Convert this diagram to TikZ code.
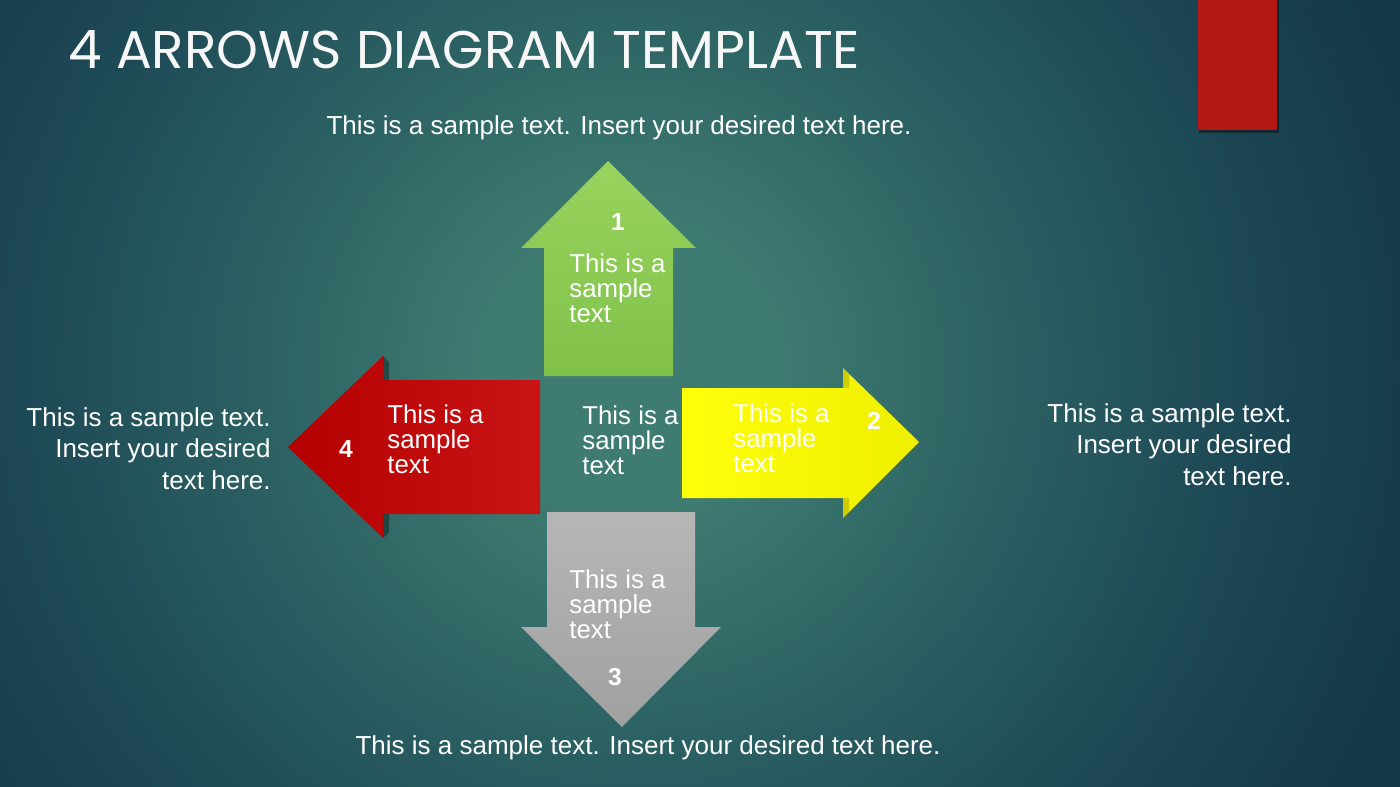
\documentclass[tikz,border=0pt]{standalone}
\usepackage{graphicx}
\usepackage{fontspec}
\setmainfont{Liberation Sans}
\newfontfamily\titleFont{Poppins}
\usepackage{tikz}
\usetikzlibrary{positioning}
\definecolor{bgEdge}{HTML}{143848}
\definecolor{bgMid}{HTML}{1D4855}
\definecolor{bgInner}{HTML}{2C6263}
\definecolor{bgCenter}{HTML}{3E7B71}
\definecolor{barRed}{HTML}{B31815}
\definecolor{greenTop}{HTML}{98D35E}
\definecolor{greenBottom}{HTML}{80C14A}
\definecolor{redLeft}{HTML}{B40000}
\definecolor{redRight}{HTML}{C81414}
\definecolor{yellowLeft}{HTML}{FFFF0A}
\definecolor{yellowRight}{HTML}{EEEE00}
\definecolor{grayTop}{HTML}{B6B6B6}
\definecolor{grayBottom}{HTML}{A0A0A0}
\pgfdeclareradialshading{bgGlow}{\pgfpoint{0bp}{0bp}}{color(0bp)=(bgCenter); color(4bp)=(bgCenter); color(10bp)=(bgInner); color(17bp)=(bgMid); color(23bp)=(bgEdge); color(25bp)=(bgEdge)}
\tikzstyle{slide} = [x = 0.02cm, y = -0.02cm]
\tikzstyle{arrowText} = [anchor = north west, inner sep = 0, align = left, text = white, font = \fontsize{14.7}{14.3}\selectfont]
\tikzstyle{sideText} = [anchor = north east, inner sep = 0, align = right, text = white, font = \fontsize{14.8}{18.1}\selectfont]
\tikzstyle{captionText} = [anchor = base, inner sep = 0, text = white, font = \fontsize{14.8}{17}\selectfont]
\tikzstyle{numberText} = [inner sep = 0, text = white, font = \bfseries\fontsize{14}{16}\selectfont]
\tikzstyle{titleText} = [anchor = base west, inner sep = 0, text = white!94!gray, font = \titleFont]
\tikzstyle{bevelStyle} = [opacity = 0.35, fill = black]
\newcommand{\sampleLines}{This is a\\sample\\text}
\newcommand{\sideLines}{This is a sample text.\\Insert your desired\\text here.}

\begin{document}
\begin{tikzpicture}[slide]
  \useasboundingbox (0,0) rectangle (1400,787);
  % background
  \fill [bgEdge] (0,0) rectangle (1400,787);
  \begin{scope}
    \clip (0,0) rectangle (1400,787);
    \shade [shading = bgGlow] (630,370) circle (900);
  \end{scope}

  % red bar at the top
  \fill [black, opacity = 0.4] (1199,0) rectangle (1279,133);
  \fill [barRed] (1198,0) rectangle (1277,130);

  \node [titleText] (title) at (68,69) {\resizebox{15.84cm}{0.76cm}{4 ARROWS DIAGRAM TEMPLATE}};

  % the four arrows
  \shade [top color = greenTop, bottom color = greenBottom]
    (544,376) -- (544,248) -- (521,248) -- (608,161) -- (696,248) -- (673,248) -- (673,376) -- cycle;
  \shade [left color = redLeft, right color = redRight]
    (540,380) -- (383,380) -- (383,356) -- (288,447) -- (383,538) -- (383,514) -- (540,514) -- cycle;
  \shade [left color = yellowLeft, right color = yellowRight]
    (682,388) -- (843,388) -- (843,368) -- (919,442) -- (843,518) -- (843,498) -- (682,498) -- cycle;
  \shade [top color = grayTop, bottom color = grayBottom]
    (547,512) -- (695,512) -- (695,627) -- (721,627) -- (622,727) -- (521,627) -- (547,627) -- cycle;

  % bevels at the heads
  \fill [bevelStyle] (383,356) -- (389,362) -- (389,380) -- (383,380) -- cycle;
  \fill [bevelStyle] (383,538) -- (389,532) -- (389,514) -- (383,514) -- cycle;
  \fill [bevelStyle, opacity = 0.15] (843,368) -- (849,374) -- (849,388) -- (843,388) -- cycle;
  \fill [bevelStyle, opacity = 0.15] (843,518) -- (849,512) -- (849,498) -- (843,498) -- cycle;

  % texts in and round the arrows
  \node [arrowText] (greenText) at (569,253) {\sampleLines};
  \node [arrowText] (redText) at (387,404) {\sampleLines};
  \node [arrowText] (centerText) at (582,405) {\sampleLines};
  \node [arrowText] (yellowText) at (733,403) {\sampleLines};
  \node [arrowText] (grayText) at (569,569) {\sampleLines};

  \node [numberText] (numOne) at (618,222) {1};
  \node [numberText] (numTwo) at (874,421) {2};
  \node [numberText] (numThree) at (615,677) {3};
  \node [numberText] (numFour) at (346,449) {4};

  \node [captionText] (topText) at (619,135) {This is a sample text. Insert your desired text here.};
  \node [captionText] (bottomText) at (648,754) {This is a sample text. Insert your desired text here.};
  \node [sideText] (leftText) at (271,407) {\sideLines};
  \node [sideText] (rightText) at (1292,403) {\sideLines};
\end{tikzpicture}
\end{document}
